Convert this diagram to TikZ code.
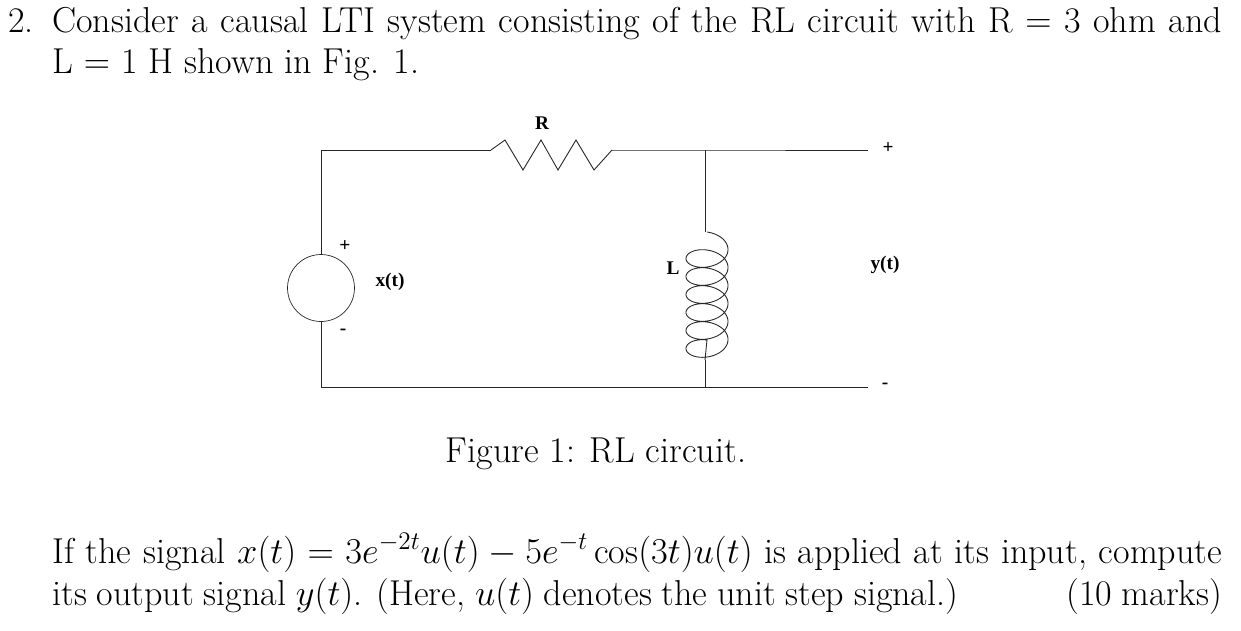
\documentclass[tikz,border=0pt]{standalone}
\usepackage{fontspec}
\newfontfamily\lblfont{Liberation Serif}
\usetikzlibrary{positioning, calc}
\tikzset{
    wire/.style={draw=black!85, line width=0.5pt},
    lbl/.style={font=\lblfont\bfseries\fontsize{11}{11}\selectfont, inner sep=0pt},
    txt/.style={font=\fontsize{20.5}{20.5}\selectfont, inner sep=0pt, anchor=base west}
}
\begin{document}
\begin{tikzpicture}[x=0.02cm, y=-0.02cm]
	\useasboundingbox (0,0) rectangle (1241,630);
	
	% text
	\node[txt] (n) at (8,32) {2.};
	\node[txt] (l1) at (52,32) {\makebox[234mm][s]{Consider a causal LTI system consisting of the RL circuit with R $=$ 3 ohm and}};
	\node[txt] (l2) at (52,73) {L $=$ 1 H shown in Fig. 1.};
	\node[txt, anchor=base] (cap) at (596,462) {Figure 1: RL circuit.};
	\node[txt] (p1) at (52,563) {\makebox[234mm][s]{If the signal $x(t) = 3e^{-2t}u(t) - 5e^{-t}\cos(3t)u(t)$ is applied at its input, compute}};
	\node[txt] (p2) at (52,605) {\makebox[234mm][s]{its output signal $y(t)$. (Here, $u(t)$ denotes the unit step signal.)\hspace{3em}(10 marks)}};
	
	% circuit
	\coordinate (TL) at (321,150);
	\coordinate (BL) at (321,387);
	\coordinate (Ra) at (491,150);
	\coordinate (Rb) at (612,150);
	\coordinate (TJ) at (705,150);
	\coordinate (BJ) at (705,387);
	\coordinate (La) at (705,232);
	\coordinate (Lb) at (705,360);
	\coordinate (TR) at (868,150);
	\coordinate (BR) at (868,387);
	\node[draw=black!85, circle, inner sep=0pt, minimum size=1.34cm] (src) at (321,288) {};
	
	\draw[wire] (src.north) -- (TL) -- (Ra);
	\draw[wire] (Ra) -- (505,140) -- (523,170) -- (541,140) -- (558,170) -- (576,140) -- (594,170) -- (Rb);
	\draw[wire] (Rb) -- (TJ) -- (TR);
	\draw[wire] (TJ) -- (La);
	\draw[wire] plot[domain=0:2160, samples=400, smooth] ({707+21*sin(\x)}, {245+\x/360*18-13*cos(\x)}) -- (Lb);
	\draw[wire] (Lb) -- (BJ);
	\draw[wire] (src.south) -- (BL) -- (BJ) -- (BR);
	
	\node[lbl] (rl) at (542,123) {R};
	\node[lbl] (ll) at (673,268) {L};
	\node[lbl] (xl) at (390,282) {x(t)};
	\node[lbl] (yl) at (885,265) {y(t)};
	\node[lbl] (sp) at (345,246) {+};
	\node[lbl] (sm) at (343,332) {-};
	\node[lbl] (op) at (888,148) {+};
	\node[lbl] (om) at (885,386) {-};
\end{tikzpicture}
\end{document}
